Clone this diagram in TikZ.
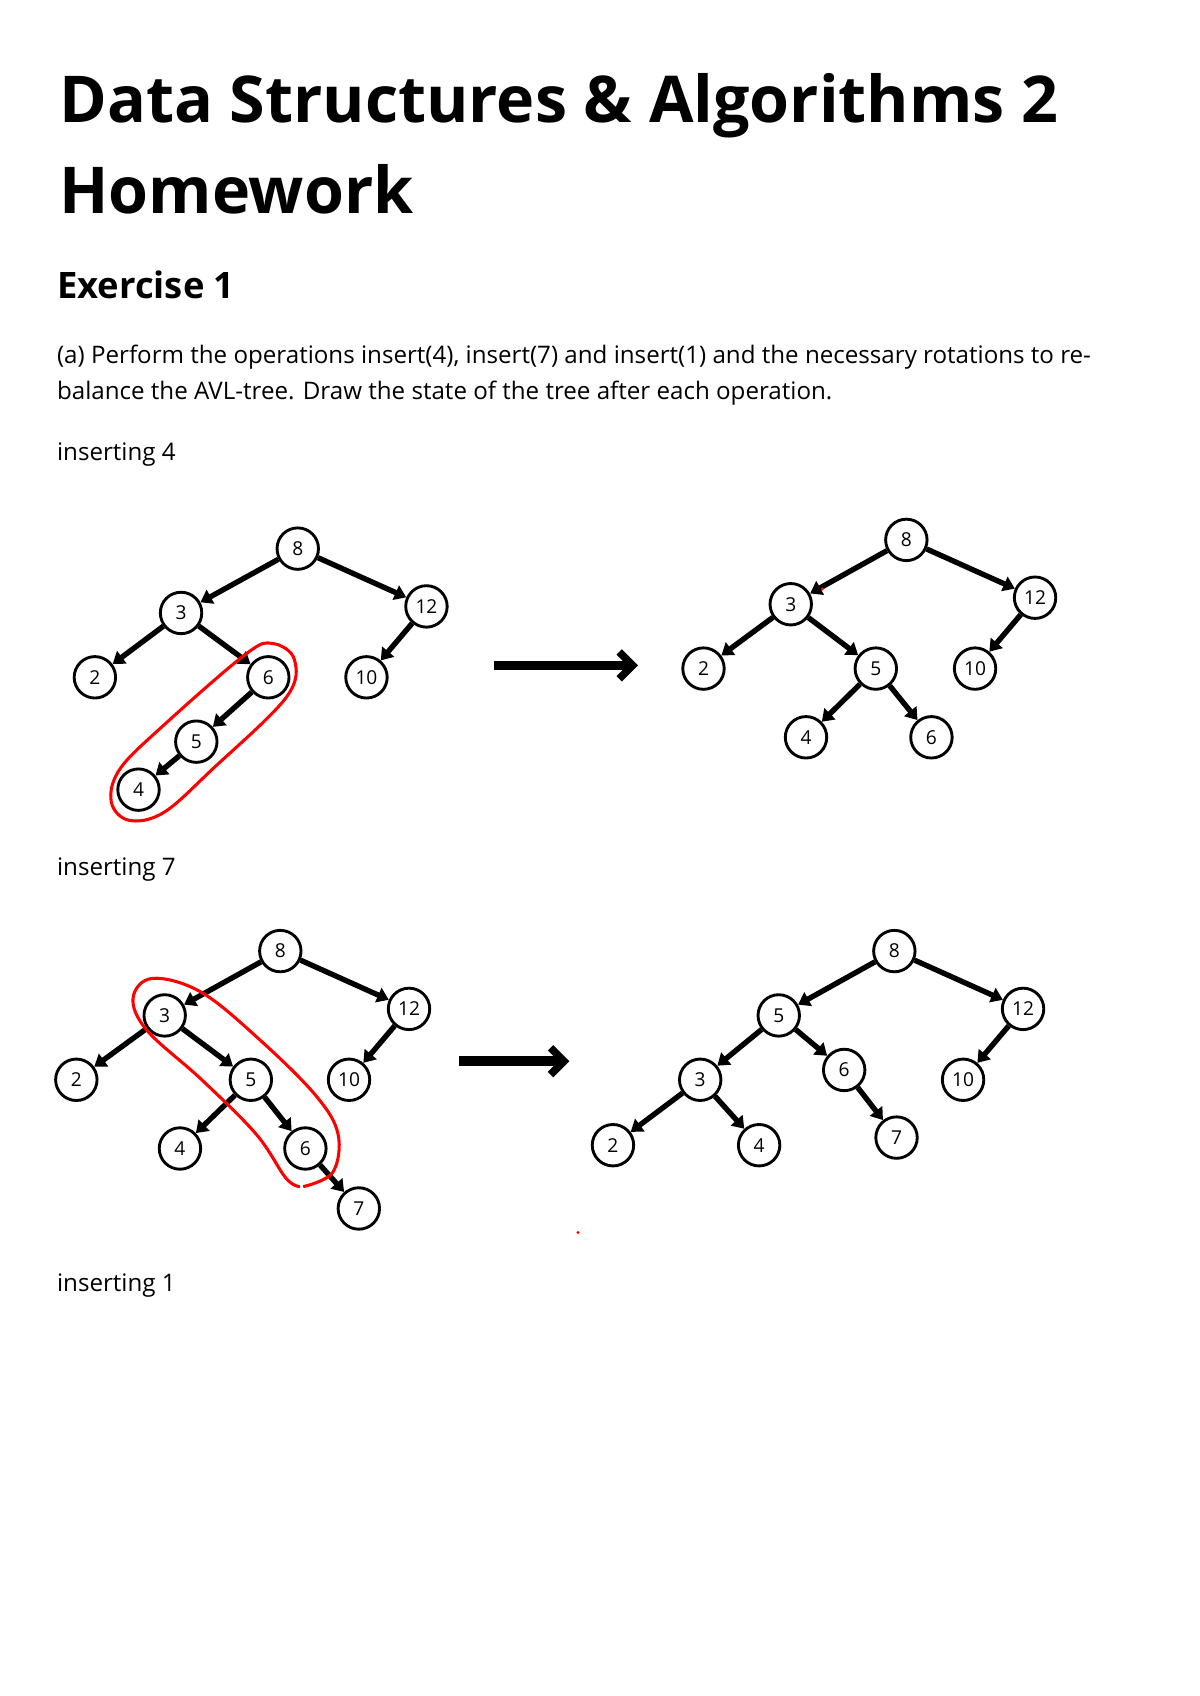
\documentclass[tikz,border=0pt]{standalone}
\usepackage{fontspec}
\setmainfont{Open Sans}
\usetikzlibrary{arrows.meta}
\begin{document}
\begin{tikzpicture}[x=0.02cm,y=-0.02cm,
 nd/.style={circle,draw,line width=1.5pt,minimum size=0.76cm,inner sep=0pt,font=\fontsize{10}{10}\selectfont},
 ed/.style={line width=2.8pt,-{Triangle[width=8pt,length=6pt]}},
 big/.style={line width=5pt,-{Straight Barb[length=7pt,width=14pt,line width=4pt]}},
 loop/.style={draw=red,line width=1.6pt},
 txt/.style={anchor=base west,inner sep=0pt}]
\useasboundingbox (0,0) rectangle (1100,1555);
\node[txt,font=\fontsize{33.7}{33.7}\bfseries\selectfont] (t1) at (54,112) {Data Structures \& Algorithms 2};
\node[txt,font=\fontsize{33.7}{33.7}\bfseries\selectfont] (t2) at (54,196) {Homework};
\node[txt,font=\fontsize{19}{19}\bfseries\selectfont] (ex) at (52,274) {Exercise 1};
\node[txt,font=\fontsize{12.6}{12.6}\selectfont] (p1) at (52,333) {(a) Perform the operations insert(4), insert(7) and insert(1) and the necessary rotations to re-};
\node[txt,font=\fontsize{12.6}{12.6}\selectfont] (p2) at (52,366) {balance the AVL-tree. Draw the state of the tree after each operation.};
\node[txt,font=\fontsize{12.6}{12.6}\selectfont] (i4) at (52,422) {inserting 4};
\node[txt,font=\fontsize{12.6}{12.6}\selectfont] (i7) at (52,803) {inserting 7};
\node[txt,font=\fontsize{12.6}{12.6}\selectfont] (i1) at (52,1184) {inserting 1};
% tree 1
\node[nd] (a8) at (273,503) {8};
\node[nd] (a3) at (166,562) {3};
\node[nd] (a12) at (391,556) {12};
\node[nd] (a2) at (87,621) {2};
\node[nd] (a6) at (246,621) {6};
\node[nd] (a10) at (336,621) {10};
\node[nd] (a5) at (180,680) {5};
\node[nd] (a4) at (127,724) {4};
\draw[ed] (a8) -- (a3); \draw[ed] (a8) -- (a12); \draw[ed] (a3) -- (a2);
\draw[ed] (a3) -- (a6); \draw[ed] (a12) -- (a10); \draw[ed] (a6) -- (a5); \draw[ed] (a5) -- (a4);
\draw[loop] plot[smooth cycle,tension=0.6] coordinates {(250,590) (270,605) (262,640) (195,705) (150,745) (118,752) (102,735) (110,705) (150,665) (225,600)};
\coordinate (b1) at (453,610); \coordinate (b2) at (585,610);
\draw[big] (b1) -- (b2);
% tree 2
\node[nd] (b8) at (831,495) {8};
\node[nd] (b3) at (725,554) {3};
\node[nd] (b12) at (949,548) {12};
\node[nd] (bb2) at (645,613) {2};
\node[nd] (b5) at (803,613) {5};
\node[nd] (b10) at (894,613) {10};
\node[nd] (b4) at (739,676) {4};
\node[nd] (b6) at (854,676) {6};
\draw[ed] (b8) -- (b3); \draw[ed] (b8) -- (b12); \draw[ed] (b3) -- (bb2);
\draw[ed] (b3) -- (b5); \draw[ed] (b12) -- (b10); \draw[ed] (b5) -- (b4); \draw[ed] (b5) -- (b6);
\fill[red] (754,540) circle (1.5);
% tree 3
\node[nd] (c8) at (257,872) {8};
\node[nd] (c3) at (151,931) {3};
\node[nd] (c12) at (375,925) {12};
\node[nd] (c2) at (70,990) {2};
\node[nd] (c5) at (230,990) {5};
\node[nd] (c10) at (320,990) {10};
\node[nd] (c4) at (165,1053) {4};
\node[nd] (c6) at (280,1053) {6};
\node[nd] (c7) at (329,1108) {7};
\draw[ed] (c8) -- (c3); \draw[ed] (c8) -- (c12); \draw[ed] (c3) -- (c2);
\draw[ed] (c3) -- (c5); \draw[ed] (c12) -- (c10); \draw[ed] (c5) -- (c4); \draw[ed] (c5) -- (c6); \draw[ed] (c6) -- (c7);
\draw[loop] plot[smooth,tension=0.6] coordinates {(278,1088) (305,1075) (310,1040) (290,1005) (240,955) (185,910) (140,897) (122,915) (135,945) (185,990) (235,1040) (262,1080) (275,1088)};
\coordinate (d1) at (421,973); \coordinate (d2) at (522,973);
\draw[big] (d1) -- (d2);
% tree 4
\node[nd] (d8) at (820,872) {8};
\node[nd] (d5) at (714,931) {5};
\node[nd] (d12) at (938,925) {12};
\node[nd] (d3) at (642,990) {3};
\node[nd] (d6) at (774,981) {6};
\node[nd] (d10) at (883,990) {10};
\node[nd] (dd2) at (562,1050) {2};
\node[nd] (d4) at (696,1050) {4};
\node[nd] (d7) at (822,1043) {7};
\draw[ed] (d8) -- (d5); \draw[ed] (d8) -- (d12); \draw[ed] (d5) -- (d3);
\draw[ed] (d5) -- (d6); \draw[ed] (d12) -- (d10); \draw[ed] (d3) -- (dd2); \draw[ed] (d3) -- (d4); \draw[ed] (d6) -- (d7);
\fill[red] (530,1130) circle (1.5);
\end{tikzpicture}
\end{document}
